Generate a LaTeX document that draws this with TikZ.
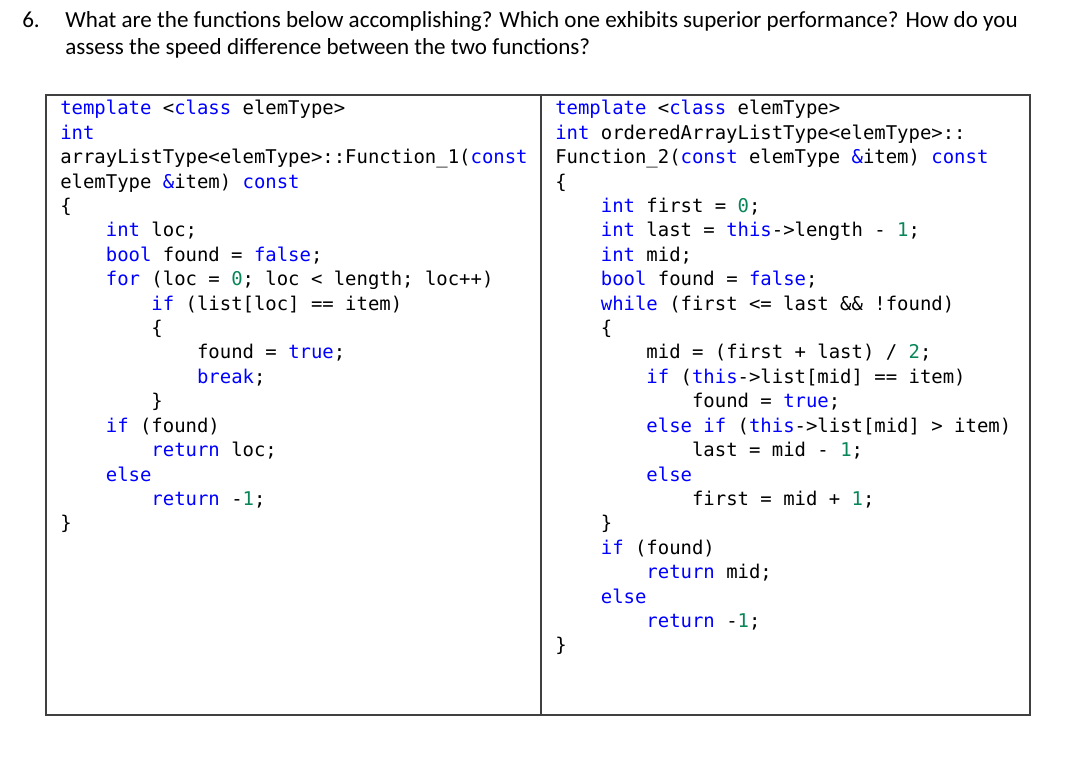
\documentclass[tikz,border=0pt]{standalone}
\usepackage{fontspec}
\setmainfont{Carlito}
\newfontfamily\codefont{DejaVu Sans Mono}
\definecolor{kwblue}{RGB}{0,0,255}
\definecolor{numgreen}{RGB}{9,134,88}
\newcommand{\kw}[1]{\textcolor{kwblue}{#1}}
\newcommand{\nm}[1]{\textcolor{numgreen}{#1}}
\newcommand{\ind}[1]{\hspace*{#1\dimexpr 8.55pt\relax}}
\begin{document}
\begin{tikzpicture}[x=0.75pt,y=-0.75pt,
  code/.style={anchor=base west,inner sep=0pt,font=\codefont\fontsize{14.2}{17}\selectfont},
  qtext/.style={anchor=base west,inner sep=0pt,font=\fontsize{17.3}{20}\selectfont},
  frame/.style={draw=black!75,line width=0.8pt}]
\useasboundingbox (0,0) rectangle (1078,780);
\node[qtext] (qn) at (22,28) {6.};
\node[qtext] (q1) at (65,28) {What are the functions below accomplishing? Which one exhibits superior performance? How do you};
\node[qtext] (q2) at (65,55) {assess the speed difference between the two functions?};
\draw[frame] (46,95) rectangle (1030,715);
\draw[frame] (541,95) -- (541,715);
% left column
\def\lx{60}
\node[code] (l1) at (\lx,115) {\kw{template} <\kw{class} elemType>};
\node[code] (l2) at (\lx,139.4) {\kw{int}};
\node[code] (l3) at (\lx,163.8) {arrayListType<elemType>::Function\_1(\kw{const}};
\node[code] (l4) at (\lx,188.2) {elemType \kw{\&}item) \kw{const}};
\node[code] (l5) at (\lx,212.6) {\{};
\node[code] (l6) at (\lx,237) {\ind{4}\kw{int} loc;};
\node[code] (l7) at (\lx,261.4) {\ind{4}\kw{bool} found = \kw{false};};
\node[code] (l8) at (\lx,285.8) {\ind{4}\kw{for} (loc = \nm{0}; loc < length; loc++)};
\node[code] (l9) at (\lx,310.2) {\ind{8}\kw{if} (list[loc] == item)};
\node[code] (l10) at (\lx,334.6) {\ind{8}\{};
\node[code] (l11) at (\lx,359) {\ind{12}found = \kw{true};};
\node[code] (l12) at (\lx,383.4) {\ind{12}\kw{break};};
\node[code] (l13) at (\lx,407.8) {\ind{8}\}};
\node[code] (l14) at (\lx,432.2) {\ind{4}\kw{if} (found)};
\node[code] (l15) at (\lx,456.6) {\ind{8}\kw{return} loc;};
\node[code] (l16) at (\lx,481) {\ind{4}\kw{else}};
\node[code] (l17) at (\lx,505.4) {\ind{8}\kw{return} -\nm{1};};
\node[code] (l18) at (\lx,529.8) {\}};
% right column
\def\rx{555}
\node[code] (r1) at (\rx,115) {\kw{template} <\kw{class} elemType>};
\node[code] (r2) at (\rx,139.4) {\kw{int} orderedArrayListType<elemType>::};
\node[code] (r3) at (\rx,163.8) {Function\_2(\kw{const} elemType \kw{\&}item) \kw{const}};
\node[code] (r4) at (\rx,188.2) {\{};
\node[code] (r5) at (\rx,212.6) {\ind{4}\kw{int} first = \nm{0};};
\node[code] (r6) at (\rx,237) {\ind{4}\kw{int} last = \kw{this}->length - \nm{1};};
\node[code] (r7) at (\rx,261.4) {\ind{4}\kw{int} mid;};
\node[code] (r8) at (\rx,285.8) {\ind{4}\kw{bool} found = \kw{false};};
\node[code] (r9) at (\rx,310.2) {\ind{4}\kw{while} (first <= last \&\& !found)};
\node[code] (r10) at (\rx,334.6) {\ind{4}\{};
\node[code] (r11) at (\rx,359) {\ind{8}mid = (first + last) / \nm{2};};
\node[code] (r12) at (\rx,383.4) {\ind{8}\kw{if} (\kw{this}->list[mid] == item)};
\node[code] (r13) at (\rx,407.8) {\ind{12}found = \kw{true};};
\node[code] (r14) at (\rx,432.2) {\ind{8}\kw{else} \kw{if} (\kw{this}->list[mid] > item)};
\node[code] (r15) at (\rx,456.6) {\ind{12}last = mid - \nm{1};};
\node[code] (r16) at (\rx,481) {\ind{8}\kw{else}};
\node[code] (r17) at (\rx,505.4) {\ind{12}first = mid + \nm{1};};
\node[code] (r18) at (\rx,529.8) {\ind{4}\}};
\node[code] (r19) at (\rx,554.2) {\ind{4}\kw{if} (found)};
\node[code] (r20) at (\rx,578.6) {\ind{8}\kw{return} mid;};
\node[code] (r21) at (\rx,603) {\ind{4}\kw{else}};
\node[code] (r22) at (\rx,627.4) {\ind{8}\kw{return} -\nm{1};};
\node[code] (r23) at (\rx,651.8) {\}};
\end{tikzpicture}
\end{document}
